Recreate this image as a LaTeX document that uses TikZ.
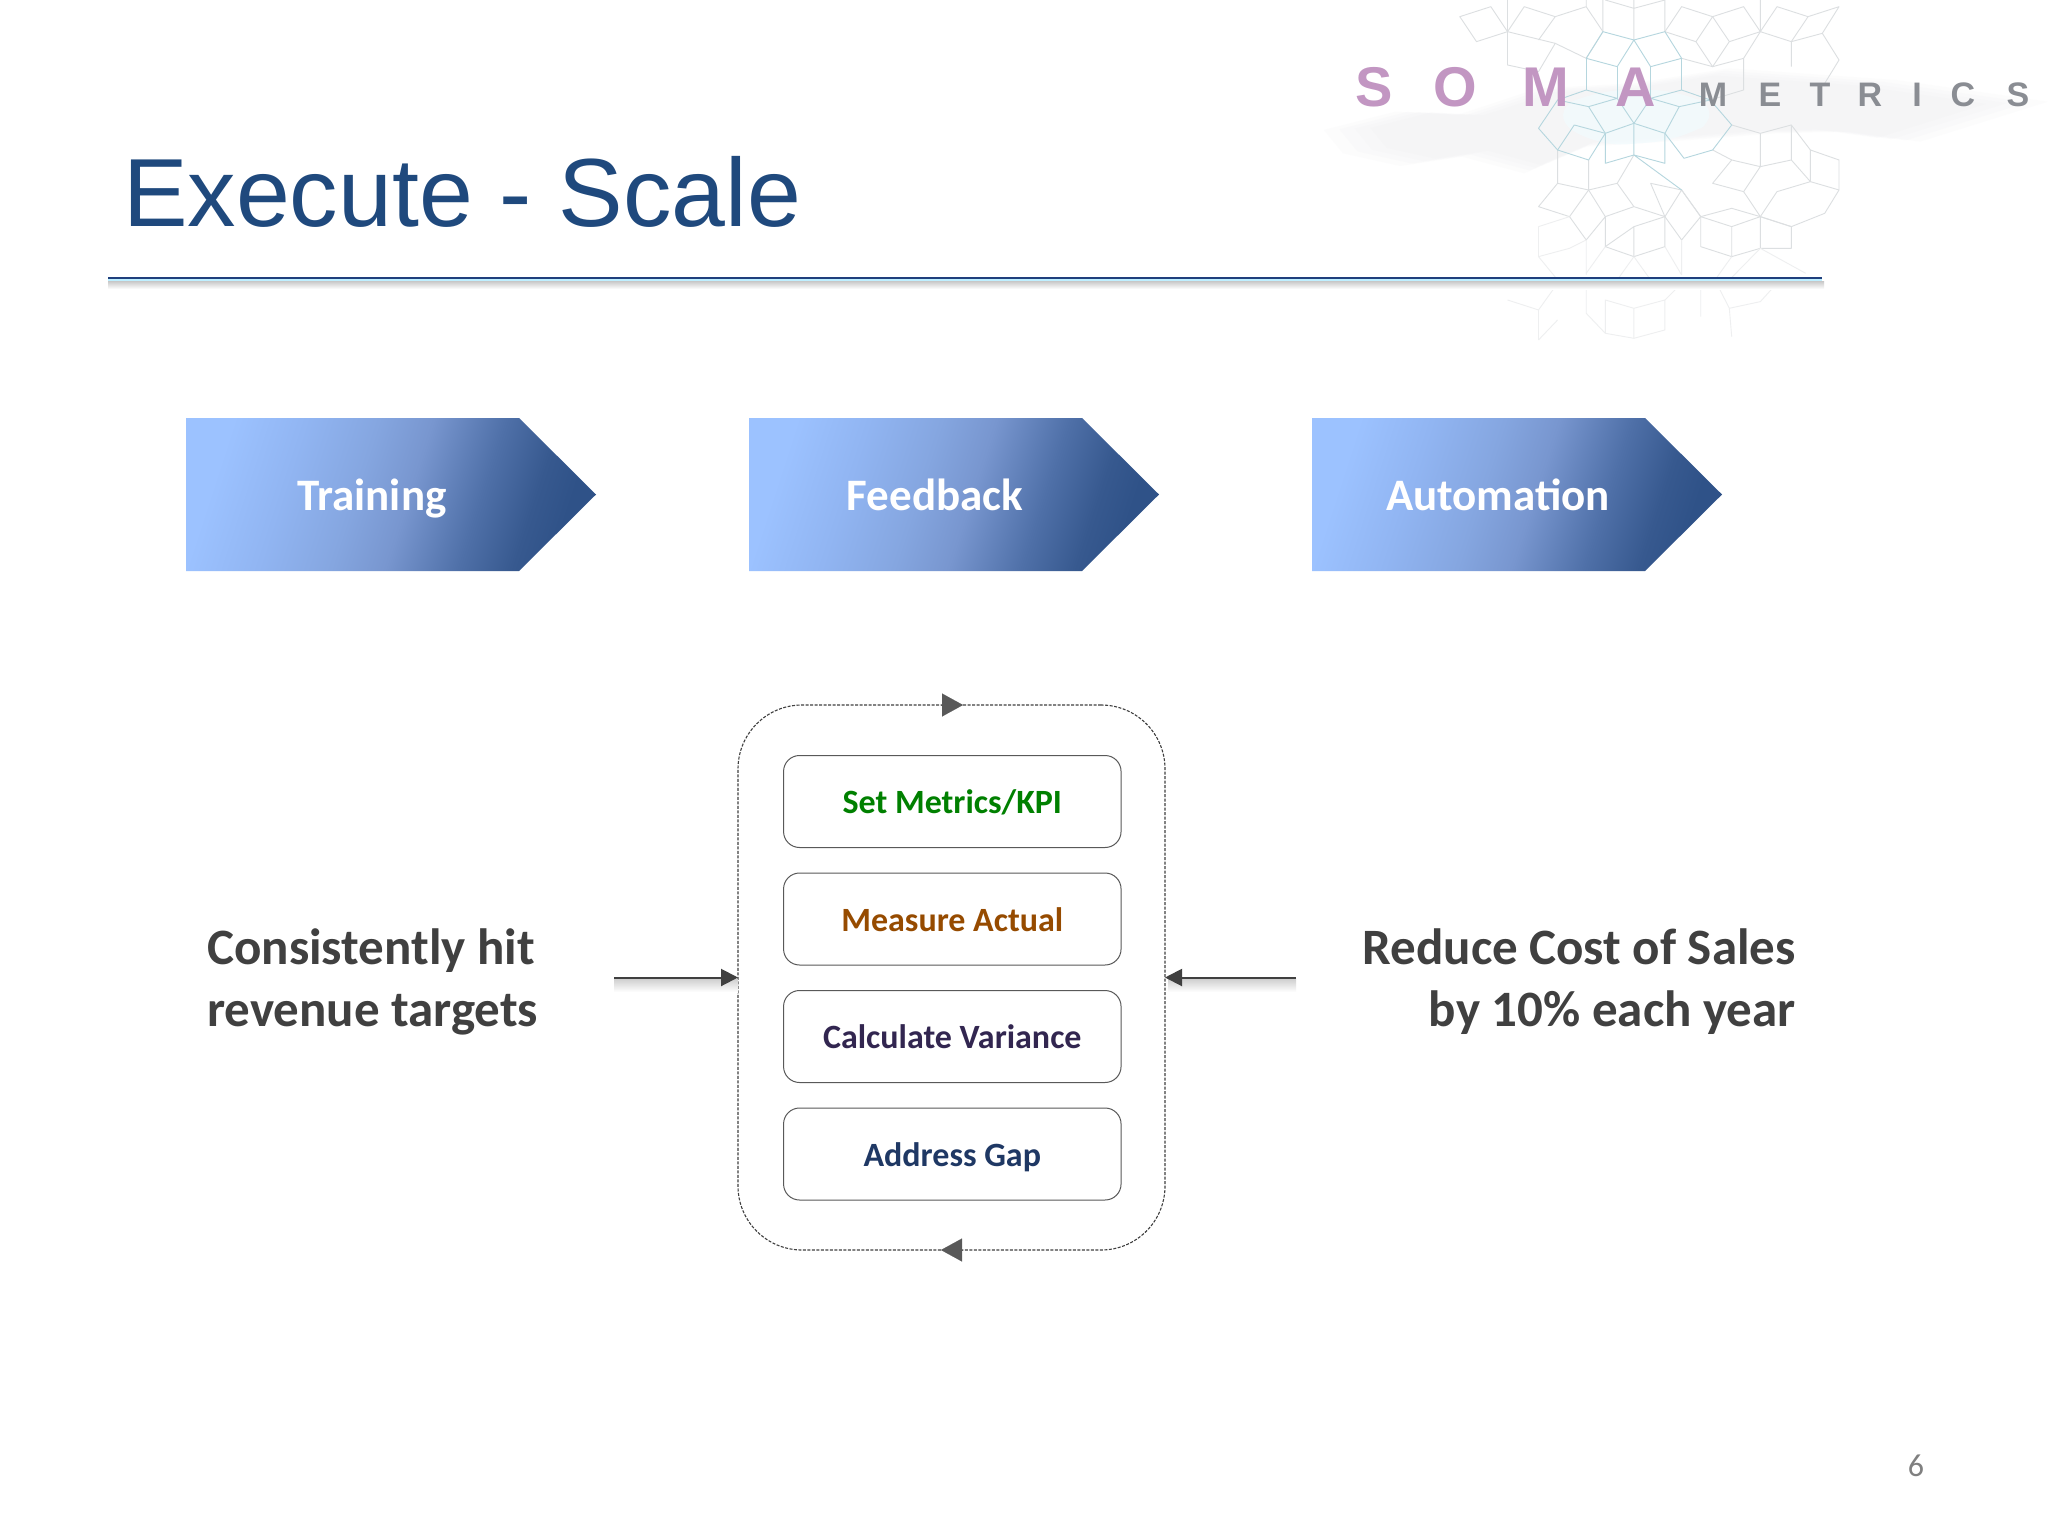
\documentclass[tikz,border=0pt]{standalone}
\usepackage{fontspec}
\setmainfont{Liberation Sans}
\newfontfamily\cali{Carlito}
\usetikzlibrary{arrows.meta}
\definecolor{titleblue}{HTML}{1F497D}
\definecolor{ruleblue}{HTML}{1F3F7D}
\definecolor{sa}{HTML}{9CC2FF}
\definecolor{sb}{HTML}{91B5F2}
\definecolor{sc}{HTML}{85A6E0}
\definecolor{sd}{HTML}{7896CF}
\definecolor{se}{HTML}{4F70A8}
\definecolor{sf}{HTML}{37598F}
\definecolor{sg}{HTML}{2F5288}
\definecolor{bodygray}{HTML}{404040}
\definecolor{pinkl}{HTML}{C296C2}
\definecolor{grayl}{HTML}{8A8D93}
\definecolor{tileA}{HTML}{B5D6DE}
\definecolor{tileB}{HTML}{DCDFE1}
\definecolor{tileC}{HTML}{EEEFF0}
\definecolor{smudge}{HTML}{E6E6EA}
\pgfdeclarehorizontalshading{chevshade}{100bp}{color(0bp)=(sa); color(25bp)=(sa); color(35bp)=(sb); color(45bp)=(sc); color(52.5bp)=(sd); color(62.5bp)=(se); color(70bp)=(sf); color(75bp)=(sg); color(100bp)=(sg)}
\tikzset{
  chev/.style={shading=chevshade,shading angle=-18},
  chevtext/.style={font=\cali\bfseries\fontsize{45}{50}\selectfont,text=white,inner sep=0pt,anchor=base},
  stepcard/.style={draw=black!65,line width=1pt,rounded corners=16pt,minimum width=337.5pt,minimum height=92pt,outer sep=0pt,font=\cali\bfseries\fontsize{34}{40}\selectfont,inner sep=0pt,text height=28pt,text depth=4pt},
  loopbox/.style={draw=black!75,line width=1.1pt,dash pattern=on 3pt off 1.5pt,rounded corners=64pt,minimum width=427pt,minimum height=545pt,outer sep=0pt},
  sidearrow/.style={draw=bodygray,line width=2pt,-{Triangle[length=17pt,width=17pt]}},
  looparrow/.style={draw=black!65,line width=.1pt,-{Triangle[length=21pt,width=23pt,fill=black!65]}},
  goaltext/.style={font=\cali\bfseries\fontsize{51}{62}\selectfont,text=bodygray,inner sep=0pt},
  logoA/.style={font=\bfseries\fontsize{56}{60}\selectfont,text=pinkl,anchor=base,inner sep=0pt},
  logoB/.style={font=\bfseries\fontsize{34}{40}\selectfont,text=grayl,anchor=base,inner sep=0pt},
  tile/.style={line width=.9pt,line join=round}
}
\begin{document}
\begin{tikzpicture}[x=1pt,y=-1pt]
\useasboundingbox (0,0) rectangle (2048,1536);
\fill[white] (0,0) rectangle (2048,1536);
% logo smudge and tiling
\begin{scope}[x=.477pt,y=-.3333pt,xshift=1300pt]
\foreach \s in {1,.95,.9,.85}{
\begin{scope}[shift={(700,350)},scale=\s,shift={(-700,-350)}]
\fill[smudge,fill opacity=.1] (50,390)--(200,335)--(330,345)--(500,265)--(700,250)--(900,205)--(1250,240)--(1568,305)--(1300,425)--(1150,395)--(1000,400)--(820,420)--(600,440)--(470,520)--(340,470)--(210,498)--(90,460)--cycle;
\end{scope}}
\fill[cyan!5,fill opacity=.7,rounded corners=30pt] (520,340)--(620,270)--(800,270)--(890,340)--(800,420)--(620,440)--cycle;
\begin{scope}[tile,draw=tileB]
\draw (370,125)--(335,50)--(400,20)--(435,95)--cycle;
\draw (435,0)--(435,195)--(500,215)--(535,130)--(435,95)--(470,20)--(535,50)--(500,120);
\draw (535,50)--(600,20)--(635,95)--(600,175)--(535,130);
\draw (600,20)--(600,0) (635,0)--(635,95) (765,0)--(765,95) (700,0)--(700,120) (640,0)--(700,25)--(765,0);
\draw (765,95)--(800,20)--(865,50)--(830,125)--cycle;
\draw (865,50)--(930,20)--(965,95)--(900,125)--cycle (830,125)--(865,200)--(900,125);
\draw (800,175)--(865,200)--(930,175)--(930,270)--(860,300) (965,95)--(930,175);
\draw (965,0)--(965,95)--(1030,125)--(1065,50)--(1000,20)--(965,95);
\draw (1065,50)--(1130,20)--(1095,100)--(1030,125) (1030,125)--(1030,200) (1095,100)--(1130,180)--(1100,250);
\draw (905,375)--(965,400)--(1030,375)--(1070,450)--(1130,480)--(1130,570)--(1100,640)--(1030,680)--(965,650)--(905,625)--(840,650)--(800,570);
\draw (965,400)--(965,500)--(905,480)--(865,550)--(930,575)--(965,500)--(1030,480)--(1070,545)--(1000,575)--(965,650);
\draw (1030,375)--(1030,480) (930,575)--(965,650) (865,450)--(905,480) (1070,450)--(1070,545)--(1130,570);
\draw (540,450)--(540,550)--(605,570)--(605,480) (700,465)--(665,550)--(605,570);
\draw (540,550)--(500,620)--(565,650)--(605,570);
\draw (665,550)--(700,620)--(640,650)--(605,570) (700,620)--(765,650)--(735,550);
\draw (735,550)--(800,570)--(765,650) (800,570)--(840,650)--(800,720)--(765,650);
\draw (640,650)--(600,720)--(565,650) (640,650)--(640,740)--(700,770)--(765,740)--(765,650);
\draw (640,740)--(700,680)--(765,650) (700,680)--(700,770);
\draw (840,650)--(840,740)--(905,770)--(905,680)--(840,650) (905,680)--(965,650)--(965,745)--(905,770);
\draw (965,650)--(1030,680)--(1030,745)--(965,745);
\end{scope}
\begin{scope}[tile,draw=tileC]
\draw (500,680)--(565,650) (500,680)--(500,770)--(540,840) (500,770)--(565,745)--(600,720) (600,720)--(600,825);
\draw (640,740)--(600,820) (700,770)--(665,840) (700,770)--(735,840) (765,740)--(800,825) (800,720)--(800,825);
\draw (905,770)--(870,840) (965,745)--(1060,820) (965,745)--(900,840);
\draw (435,900)--(500,930)--(540,850) (500,930)--(500,1020) (600,850)--(600,940)--(640,1000)--(700,1015)--(765,990)--(765,900)--(700,925)--(640,900)--(640,1000);
\draw (700,925)--(700,1015) (765,900)--(800,850) (870,840)--(900,925)--(965,905)--(1000,850) (900,925)--(905,1010) (840,860)--(840,950) (500,1020)--(540,960);
\end{scope}
\begin{scope}[tile,draw=tileA]
\draw (700,120)--(635,95)--(600,175)--(665,200)--cycle;
\draw (700,120)--(765,95)--(800,175)--(735,200)--cycle;
\draw (600,175)--(600,270) (800,175)--(800,270) (665,200)--(665,295) (735,200)--(735,295);
\draw (540,300)--(600,270)--(665,295)--(605,320)--cycle;
\draw (860,300)--(800,270)--(735,295)--(795,320)--cycle;
\draw (605,320)--(640,400)--(700,370)--(665,295) (795,320)--(765,400)--(700,370)--(735,295);
\draw (540,300)--(500,385)--(540,450)--(605,480)--(640,400);
\draw (860,300)--(905,375)--(865,450)--(805,475)--(765,400);
\draw (575,375)--(540,450) (575,375)--(640,400) (700,370)--(700,465);
\draw (640,400)--(640,490)--(700,465)--(765,490)--(765,400) (700,465)--(800,570);
\end{scope}
\end{scope}
% logo letters
\node[logoA] (s1) at (1374,107) {S};
\node[logoA] (s2) at (1455,107) {O};
\node[logoA] (s3) at (1546,107) {M};
\node[logoA] (s4) at (1636,107) {A};
\node[logoB] (m1) at (1713,107) {M};
\node[logoB] (m2) at (1770,107) {E};
\node[logoB] (m3) at (1820,107) {T};
\node[logoB] (m4) at (1870,107) {R};
\node[logoB] (m5) at (1917,107) {I};
\node[logoB] (m6) at (1963,107) {C};
\node[logoB] (m7) at (2018,107) {S};
% title and rule
\node[anchor=base west,inner sep=0pt,text=titleblue,font=\fontsize{96.8}{110}\selectfont] (title) at (123,226) {Execute - Scale};
\shade[top color=black!22,bottom color=white] (108,281) rectangle (1824,289);
\fill[ruleblue] (108,277.2) rectangle (1822,279.2);
\fill[blue!25!cyan!25] (108,279.2) rectangle (1822,280.5);
% chevrons
\foreach \cx/\nm/\lab in {186/ta/Training,749/tb/Feedback,1312/tc/Automation}{
  \shade[chev] (\cx,418)--(\cx+333,418)--(\cx+410,494.5)--(\cx+333,571)--(\cx,571)--cycle;
  \node[chevtext] (\nm) at (\cx+186,510) {\lab};
}
% loop
\node[loopbox] (loop) at (951.5,977.5) {};
\node[stepcard,text={rgb,255:red,0;green,128;blue,0}] (c1) at (952.3,801.5) {Set Metrics/KPI};
\node[stepcard,text={rgb,255:red,150;green,75;blue,0}] (c2) at (952.3,919) {Measure Actual};
\node[stepcard,text={rgb,255:red,50;green,38;blue,80}] (c3) at (952.3,1036.5) {Calculate Variance};
\node[stepcard,text={rgb,255:red,31;green,56;blue,100}] (c4) at (952.3,1154) {Address Gap};
\coordinate (ta1) at (941,705);
\coordinate (ta2) at (963,705);
\coordinate (ba1) at (963,1250);
\coordinate (ba2) at (941,1250);
\draw[looparrow] (ta1)--(ta2);
\draw[looparrow] (ba1)--(ba2);
% side arrows
\coordinate (ls) at (614,977.5);
\coordinate (rs) at (1296,977.5);
\shade[top color=black!18,bottom color=white] (614,979.5) rectangle (738,992);
\shade[top color=black!18,bottom color=white] (1168,979.5) rectangle (1296,992);
\draw[sidearrow] (ls)--(loop.west);
\draw[sidearrow] (rs)--(loop.east);
% goal text
\node[goaltext,align=left,anchor=base west] (goalL) at (207,1026) {Consistently hit\\revenue targets};
\node[goaltext,align=right,anchor=base east] (goalR) at (1796,1026) {Reduce Cost of Sales\\by 10\% each year};
% page number
\node[inner sep=0pt,text=black!50,font=\cali\fontsize{32}{38}\selectfont] (pg) at (1916,1466) {6};
\end{tikzpicture}
\end{document}
